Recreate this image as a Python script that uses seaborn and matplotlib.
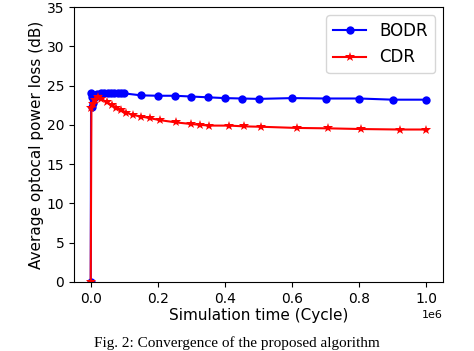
import pandas as pd
import seaborn as sns
import matplotlib.pyplot as plt

# BODR samples (simulation cycle, loss in dB)
bodr_x = [0, 1000, 3000, 5000, 8000, 12000, 20000, 30000, 40000, 50000, 60000,
          70000, 80000, 90000, 100000, 150000, 200000, 250000, 300000, 350000,
          400000, 450000, 500000, 600000, 700000, 800000, 900000, 1000000]
bodr_y = [0, 24.0, 23.6, 22.3, 22.8, 23.5, 23.9, 24.0, 24.0, 24.05, 24.05,
          24.1, 24.05, 24.0, 24.0, 23.75, 23.7, 23.7, 23.6, 23.5,
          23.4, 23.35, 23.3, 23.4, 23.35, 23.35, 23.2, 23.2]

# CDR samples
cdr_x = [0, 2000, 7000, 12000, 22000, 32000, 47000, 62000, 76000, 91000,
         106000, 126000, 151000, 176000, 205000, 255000, 300000, 325000,
         352000, 412000, 458000, 508000, 614000, 708000, 806000, 920000, 1000000]
cdr_y = [0, 22.1, 22.7, 23.1, 23.5, 23.3, 22.9, 22.5, 22.2, 21.9,
         21.55, 21.25, 21.05, 20.85, 20.6, 20.3, 20.1, 20.0,
         19.9, 19.9, 19.8, 19.75, 19.6, 19.55, 19.46, 19.4, 19.4]

df = pd.concat([
    pd.DataFrame({'time': bodr_x, 'loss': bodr_y, 'algo': 'BODR'}),
    pd.DataFrame({'time': cdr_x, 'loss': cdr_y, 'algo': 'CDR'}),
]).reset_index(drop=True)

fig = plt.figure(figsize=(4.74, 3.51), dpi=100)
ax = fig.add_axes([0.156, 0.197, 0.779, 0.783])

sns.lineplot(data=df[df['algo'] == 'BODR'], x='time', y='loss', ax=ax,
             color='blue', marker='o', markersize=6, markeredgewidth=0,
             linewidth=1.5, label='BODR', sort=False)
sns.lineplot(data=df[df['algo'] == 'CDR'], x='time', y='loss', ax=ax,
             color='red', marker='*', markersize=7, markeredgewidth=0,
             linewidth=1.5, label='CDR', sort=False)

ax.set_ylim(0, 35)
ax.set_xlim(-50000, 1050000)
ax.set_xticks([0, 200000, 400000, 600000, 800000, 1000000])
ax.ticklabel_format(axis='x', style='sci', scilimits=(0, 0))
ax.tick_params(labelsize=10)
ax.xaxis.get_offset_text().set_fontsize(8)
ax.set_xlabel('Simulation time (Cycle)', fontsize=11, labelpad=2)
ax.set_ylabel('Average optocal power loss (dB)', fontsize=11, labelpad=2)
ax.legend(loc='upper right', fontsize=12)

fig.text(0.5, 0.004, 'Fig. 2: Convergence of the proposed algorithm',
         ha='center', va='bottom', fontsize=11, family='Liberation Serif')

plt.savefig('out.png', dpi=100)
